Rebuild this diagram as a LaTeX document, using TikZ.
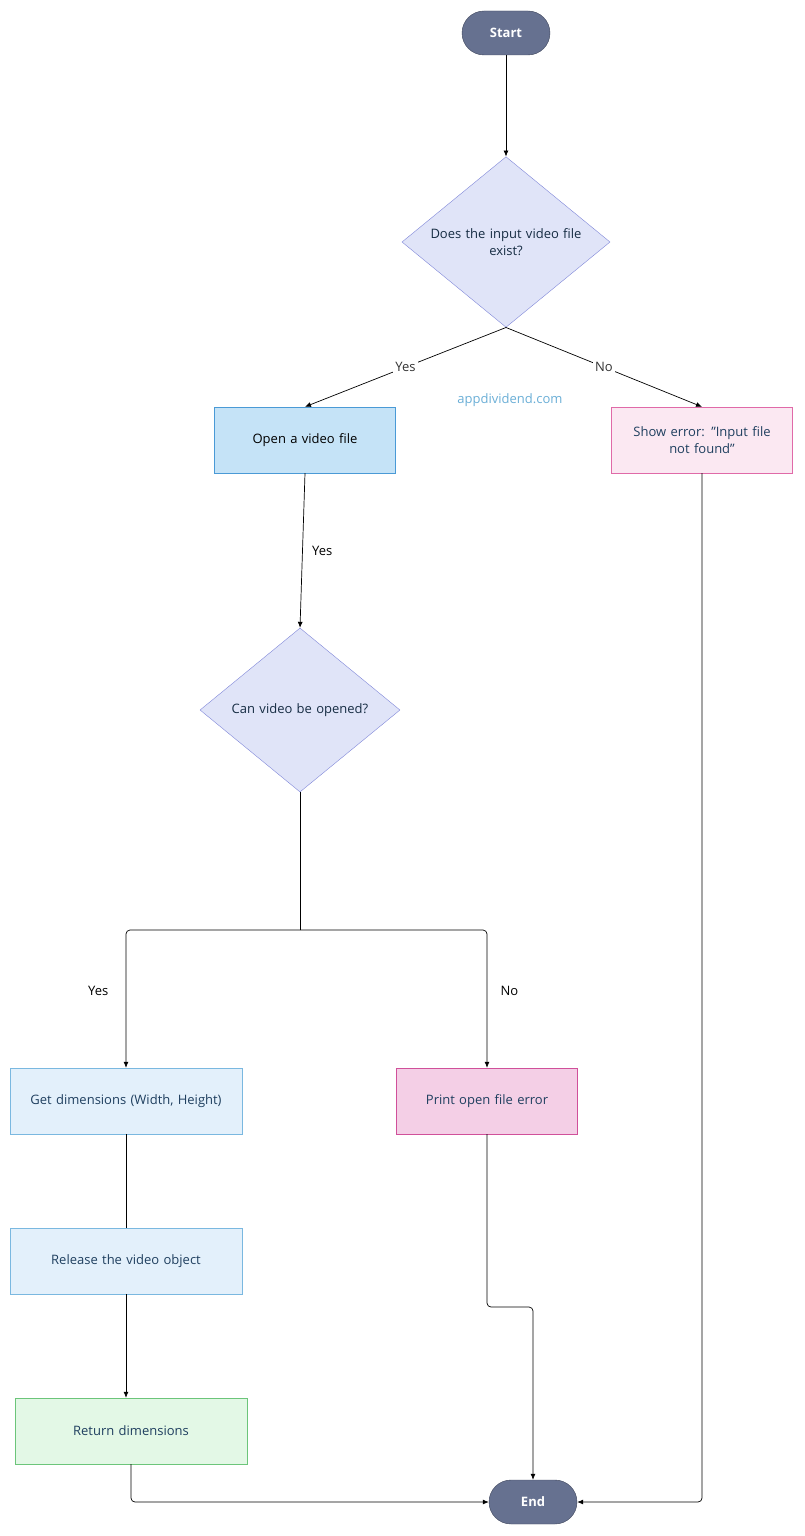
\documentclass[tikz,border=0pt]{standalone}
\usepackage{fontspec}
\setmainfont{Open Sans}
\usetikzlibrary{shapes.geometric,arrows.meta,positioning}
\definecolor{termfill}{HTML}{667190}
\definecolor{termline}{HTML}{3F465C}
\definecolor{decfill}{HTML}{E0E4F8}
\definecolor{decline}{HTML}{7F86D8}
\definecolor{openfill}{HTML}{C5E3F7}
\definecolor{openline}{HTML}{4A9AD6}
\definecolor{stepfill}{HTML}{E3F0FB}
\definecolor{stepline}{HTML}{7AB8E0}
\definecolor{errfill}{HTML}{FBE8F2}
\definecolor{errline}{HTML}{E06AA8}
\definecolor{prtfill}{HTML}{F4CFE6}
\definecolor{prtline}{HTML}{D0509A}
\definecolor{retfill}{HTML}{E3F8E6}
\definecolor{retline}{HTML}{6CC57A}
\definecolor{marktext}{HTML}{6AAED6}
\definecolor{boxtext}{HTML}{1F3F5F}

\begin{document}
\begin{tikzpicture}[x=1pt,y=-1pt,
    every node/.style={font=\fontsize{13}{17}\selectfont},
    term/.style={rounded corners=22pt,minimum width=88pt,minimum height=44pt,
      fill=termfill,draw=termline,text=white,font=\fontsize{13}{17}\selectfont\bfseries},
    decision/.style={diamond,aspect=1.22,minimum width=200pt,minimum height=164pt,
      inner sep=0pt,fill=decfill,draw=decline,align=center,text width=175pt,text=boxtext!70!black},
    box/.style={minimum width=181pt,minimum height=66pt,align=center,text width=165pt},
    flow/.style={-{Latex[length=6pt,width=5pt]},line width=0.7pt},
    lbl/.style={fill=white,inner sep=2pt,text=black!80}]
    \useasboundingbox (0,0) rectangle (804,1536);
    % nodes
    \node[term] (start) at (506,33) {Start};
    \node[decision] (exists) at (506,242) {Does the input video file\\ exist?};
    \node[box,fill=openfill,draw=openline] (open) at (305,440) {Open a video file};
    \node[box,fill=errfill,draw=errline,text=boxtext] (noinput) at (702,440) {Show error: "Input file\\ not found”};
    \node[text=marktext] (mark) at (510,400) {appdividend.com};
    \node[decision] (opened) at (300,710) {Can video be opened?};
    \node[box,minimum width=231pt,text width=225pt,fill=stepfill,draw=stepline,text=boxtext] (dims) at (126,1101) {Get dimensions (Width, Height)};
    \node[box,fill=prtfill,draw=prtline,text=boxtext] (print) at (487,1101) {Print open file error};
    \node[box,minimum width=231pt,text width=225pt,fill=stepfill,draw=stepline,text=boxtext] (release) at (126,1261) {Release the video object};
    \node[box,minimum width=231pt,text width=225pt,fill=retfill,draw=retline,text=boxtext] (return) at (131,1431) {Return dimensions};
    \node[term] (finish) at (533,1502) {End};
    \coordinate (split) at (300,930);
    % connectors
    \draw[flow] (start) -- (exists);
    \draw[flow] (exists.south) -- node[lbl] {Yes} (open.north);
    \draw[flow] (exists.south) -- node[lbl] {No} (noinput.north);
    \draw[flow] (open.south) -- node[right=6pt] {Yes} (opened.north);
    \draw[line width=0.7pt] (opened.south) -- (split);
    \draw[flow,rounded corners=4pt] (split) -| node[pos=0.72,left=14pt] {Yes} (dims.north);
    \draw[flow,rounded corners=4pt] (split) -| node[pos=0.72,right=10pt] {No} (print.north);
    \draw[line width=0.7pt] (dims) -- (release);
    \draw[flow] (release.south) -- (return.north -| release.south);
    \draw[flow,rounded corners=4pt] (print.south) |- (533,1307) -- (finish.north);
    \draw[flow,rounded corners=4pt] (return.south) |- (finish.west);
    \draw[flow,rounded corners=4pt] (noinput.south) |- (finish.east);
\end{tikzpicture}
\end{document}
